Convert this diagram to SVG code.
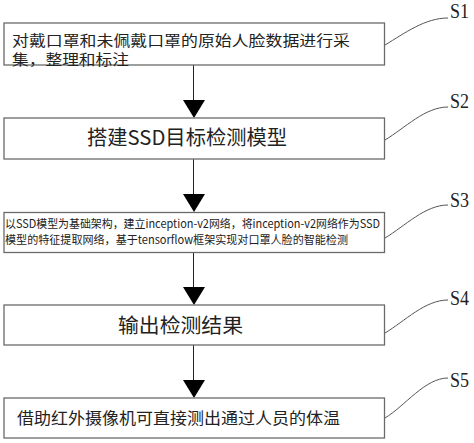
<svg xmlns="http://www.w3.org/2000/svg" width="474" height="443" viewBox="0 0 474 443">
<style>
.box{fill:#fff;stroke:#6a6a6a;stroke-width:1.3}
.t{font-family:"Noto Sans CJK SC","Liberation Sans",sans-serif;fill:#222}
.lbl{font-family:"Liberation Serif",serif;font-size:20px;fill:#222}
.lead{fill:none;stroke:#555;stroke-width:1}
.ln{stroke:#222;stroke-width:1}
.ah{fill:#000}
</style>
<rect width="474" height="443" fill="#fff"/>
<g id="connectors">
<line class="ln" x1="193.5" y1="65" x2="193.5" y2="101"/>
<polygon class="ah" points="183,100 205,100 194,118"/>
<line class="ln" x1="193.5" y1="159" x2="193.5" y2="195"/>
<polygon class="ah" points="183,194 205,194 194,212"/>
<line class="ln" x1="193.5" y1="253" x2="193.5" y2="288"/>
<polygon class="ah" points="183,287 205,287 194,305"/>
<line class="ln" x1="193.5" y1="345" x2="193.5" y2="381"/>
<polygon class="ah" points="183,380 205,380 194,398"/>
<path class="lead" d="M385,45 C405,33 425,18 448,18"/>
<path class="lead" d="M385,140 C405,128 425,107 448,107"/>
<path class="lead" d="M385,238 C405,226 425,205 448,205"/>
<path class="lead" d="M385,333 C405,321 425,300 448,300"/>
<path class="lead" d="M385,418 C405,406 425,378 448,378"/>
</g>
<g id="S1">
<rect class="box" x="4" y="23" width="380.5" height="42"/>
<text class="t" x="12" y="45.5" font-size="14.5" textLength="338" lengthAdjust="spacingAndGlyphs">对戴口罩和未佩戴口罩的原始人脸数据进行采</text>
<text class="t" x="12" y="64.5" font-size="14.5" textLength="117" lengthAdjust="spacingAndGlyphs">集，整理和标注</text>
<text class="lbl" x="450" y="18" textLength="19" lengthAdjust="spacingAndGlyphs">S1</text>
</g>
<g id="S2">
<rect class="box" x="4" y="118" width="380.5" height="41"/>
<text class="t" x="87" y="145" font-size="20" textLength="200" lengthAdjust="spacingAndGlyphs">搭建SSD目标检测模型</text>
<text class="lbl" x="450" y="108" textLength="19" lengthAdjust="spacingAndGlyphs">S2</text>
</g>
<g id="S3">
<rect class="box" x="4" y="212.5" width="380.5" height="40"/>
<text class="t" x="5" y="227.5" font-size="11.5" textLength="375" lengthAdjust="spacingAndGlyphs">以SSD模型为基础架构，建立inception-v2网络，将inception-v2网络作为SSD</text>
<text class="t" x="5" y="243.5" font-size="11.5" textLength="343" lengthAdjust="spacingAndGlyphs">模型的特征提取网络，基于tensorflow框架实现对口罩人脸的智能检测</text>
<text class="lbl" x="450" y="207" textLength="19" lengthAdjust="spacingAndGlyphs">S3</text>
</g>
<g id="S4">
<rect class="box" x="4" y="305" width="380.5" height="40"/>
<text class="t" x="118" y="333" font-size="20" textLength="125" lengthAdjust="spacingAndGlyphs">输出检测结果</text>
<text class="lbl" x="450" y="305" textLength="19" lengthAdjust="spacingAndGlyphs">S4</text>
</g>
<g id="S5">
<rect class="box" x="4" y="398" width="380.5" height="40"/>
<text class="t" x="17" y="424" font-size="16" textLength="323" lengthAdjust="spacingAndGlyphs">借助红外摄像机可直接测出通过人员的体温</text>
<text class="lbl" x="450" y="387" textLength="19" lengthAdjust="spacingAndGlyphs">S5</text>
</g>
</svg>
